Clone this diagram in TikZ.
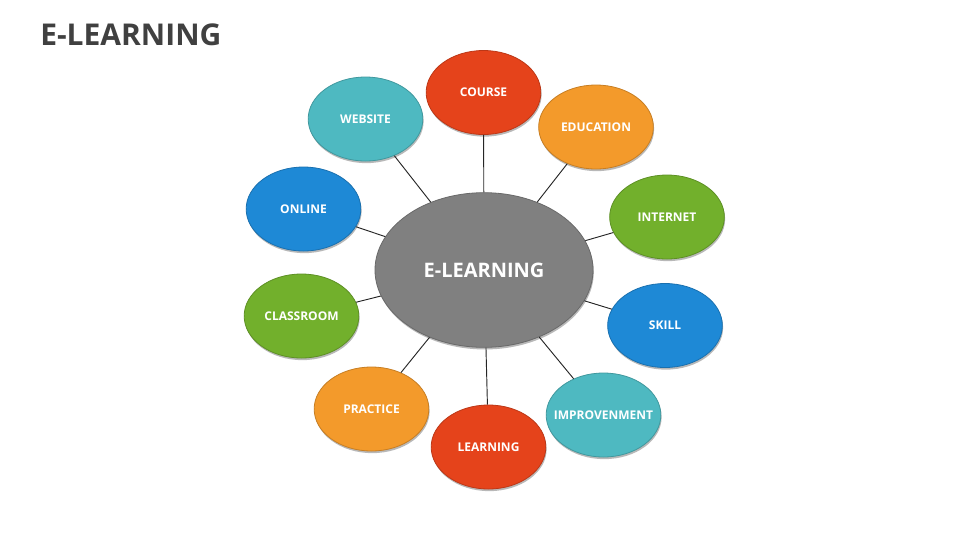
\documentclass[tikz,border=0pt]{standalone}
\usepackage{fontspec}
\setmainfont{Open Sans}
\usetikzlibrary{shapes.geometric,shadows}
\definecolor{cred}{RGB}{229,67,27}
\definecolor{corange}{RGB}{243,154,43}
\definecolor{cgreen}{RGB}{114,176,44}
\definecolor{cblue}{RGB}{30,137,214}
\definecolor{cteal}{RGB}{78,185,193}
\definecolor{cgrey}{RGB}{128,128,128}
\definecolor{ctitle}{RGB}{64,64,64}
\tikzset{
  bubble/.style={ellipse, inner sep=0pt, fill=#1, draw=#1!82!black, line width=0.6pt,
    text=white, font=\fontsize{9}{10}\selectfont\bfseries,
    drop shadow={shadow xshift=0.6pt, shadow yshift=-1.6pt, opacity=0.28, fill=black}},
  sat/.style={bubble=#1, minimum width=86pt, minimum height=63pt},
  hub/.style={bubble=cgrey, minimum width=163.5pt, minimum height=116pt,
    font=\fontsize{15}{17}\selectfont\bfseries},
  conn/.style={draw=black!85, line width=0.7pt}
}
\begin{document}
\begin{tikzpicture}[x=0.75pt,y=-0.75pt]
\useasboundingbox (0,0) rectangle (960,540);
\node[anchor=base west, text=ctitle, font=\fontsize{22.5}{26}\selectfont\bfseries, inner sep=0pt] (title) at (40,45) {E-LEARNING};

\node[hub] (hub) at (484,270) {\makebox[0pt]{E-LEARNING}};

\node[sat=cred] (course) at (483.5,92.5) {\makebox[0pt]{COURSE}};
\node[sat=corange] (education) at (596,127) {\makebox[0pt]{EDUCATION}};
\node[sat=cgreen] (internet) at (667,217) {\makebox[0pt]{INTERNET}};
\node[sat=cblue] (skill) at (665,325.5) {\makebox[0pt]{SKILL}};
\node[sat=cteal] (improv) at (603.5,415) {\makebox[0pt]{IMPROVENMENT}};
\node[sat=cred] (learning) at (488.5,447) {\makebox[0pt]{LEARNING}};
\node[sat=corange] (practice) at (371.5,409) {\makebox[0pt]{PRACTICE}};
\node[sat=cgreen] (classroom) at (301.5,316) {\makebox[0pt]{CLASSROOM}};
\node[sat=cblue] (online) at (303.5,209) {\makebox[0pt]{ONLINE}};
\node[sat=cteal] (website) at (365.5,119) {\makebox[0pt]{WEBSITE}};

\foreach \s in {course,education,internet,skill,improv,learning,practice,classroom,online,website}
  \draw[conn] (hub) -- (\s);
\end{tikzpicture}
\end{document}
